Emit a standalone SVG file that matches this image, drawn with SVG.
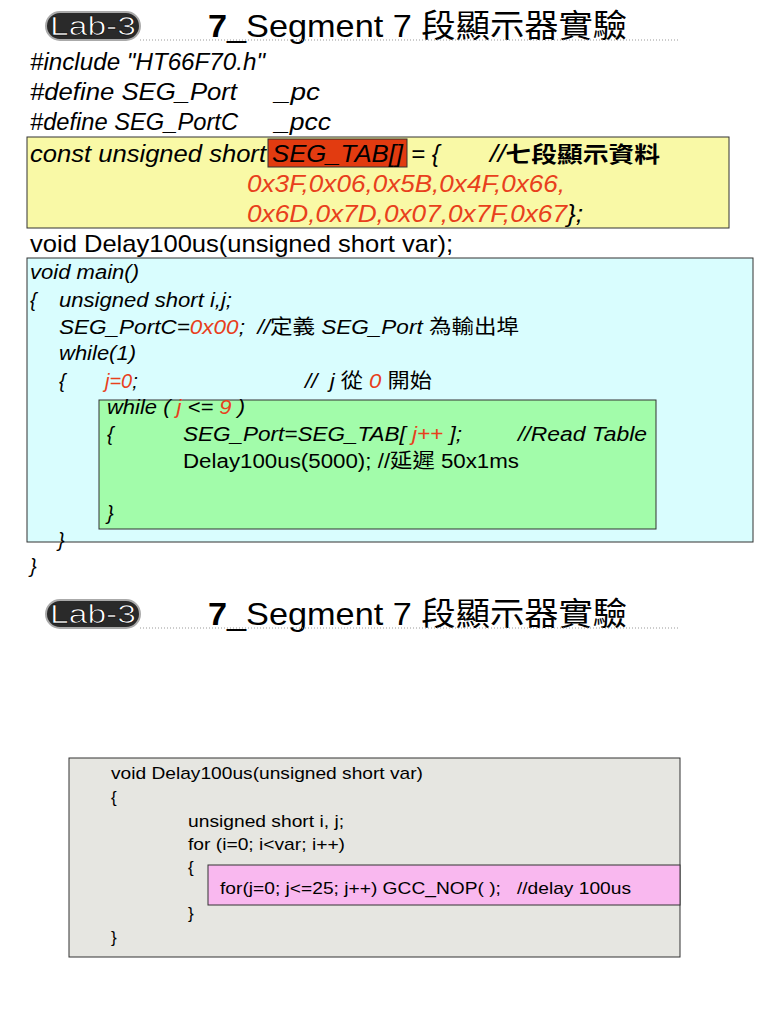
<svg xmlns="http://www.w3.org/2000/svg" width="768" height="1024" viewBox="0 0 768 1024">
<style>
text{font-family:"Liberation Sans","Noto Sans CJK TC",sans-serif;fill:#000;white-space:pre}
.c{font-size:24px;font-style:italic}
.m{font-size:20px;font-style:italic}
.r{fill:#e8401c}
.t{font-size:32px}
.b{font-size:17px}
</style>
<defs>
<g id="hdr">
<rect x="46" y="12" width="94" height="28" rx="14" fill="#2a2a2a" stroke="#aaa" stroke-width="2"/>
<text x="50" y="35" font-size="26" textLength="86" lengthAdjust="spacingAndGlyphs" style="fill:#fff" stroke="#000" stroke-width="0.6">Lab-3</text>
<text x="208" y="37" class="t" textLength="419" lengthAdjust="spacingAndGlyphs"><tspan font-weight="bold">7</tspan>_Segment 7 段顯示器實驗</text>
<line x1="140" y1="40" x2="680" y2="40" stroke="#999" stroke-dasharray="1,2"/>
</g>
</defs>
<g id="header1"><use href="#hdr"/></g>
<g id="defines">
<text x="30" y="70" class="c" textLength="235" lengthAdjust="spacingAndGlyphs">#include "HT66F70.h"</text>
<text x="30" y="100" class="c" textLength="207" lengthAdjust="spacingAndGlyphs">#define SEG_Port</text><text x="275" y="100" class="c" textLength="45" lengthAdjust="spacingAndGlyphs">_pc</text>
<text x="30" y="130" class="c" textLength="208" lengthAdjust="spacingAndGlyphs">#define SEG_PortC</text><text x="275" y="130" class="c" textLength="56" lengthAdjust="spacingAndGlyphs">_pcc</text>
</g>
<g id="table">
<rect x="27" y="137" width="702" height="91" fill="#f9f9a6" stroke="#333"/>
<rect x="268" y="139" width="139" height="28" fill="#e23b10" stroke="#333"/>
<text x="30" y="162" class="c" textLength="236" lengthAdjust="spacingAndGlyphs">const unsigned short</text>
<text x="272" y="162" class="c" textLength="131" lengthAdjust="spacingAndGlyphs">SEG_TAB[]</text>
<text x="411" y="162" class="c" font-size="19">= {</text>
<text x="490" y="162" class="c" textLength="170" lengthAdjust="spacingAndGlyphs">//<tspan font-style="normal" font-weight="bold" font-size="22">七段顯示資料</tspan></text>
<text x="247" y="192" class="c r" textLength="318" lengthAdjust="spacingAndGlyphs">0x3F,0x06,0x5B,0x4F,0x66,</text>
<text x="247" y="222" class="c" textLength="336" lengthAdjust="spacingAndGlyphs"><tspan class="r">0x6D,0x7D,0x07,0x7F,0x67</tspan>};</text>
</g>
<text x="30" y="252" font-size="24" textLength="423" lengthAdjust="spacingAndGlyphs">void Delay100us(unsigned short var);</text>
<g id="main">
<rect x="27" y="258" width="726" height="284" fill="#d9fdfe" stroke="#333"/>
<text x="30" y="279" class="m" textLength="109" lengthAdjust="spacingAndGlyphs">void main()</text>
<text x="30" y="307" class="m">{</text><text x="59" y="307" class="m" textLength="173" lengthAdjust="spacingAndGlyphs">unsigned short i,j;</text>
<text x="59" y="334" class="m" textLength="460" lengthAdjust="spacingAndGlyphs">SEG_PortC=<tspan class="r">0x00</tspan>;  //<tspan font-style="normal">定義</tspan> SEG_Port <tspan font-style="normal">為輸出埠</tspan></text>
<text x="59" y="360" class="m" textLength="77" lengthAdjust="spacingAndGlyphs">while(1)</text>
<text x="59" y="388" class="m">{</text><text x="105" y="388" class="m r">j=0<tspan style="fill:#000">;</tspan></text>
<text x="305" y="388" class="m" textLength="127" lengthAdjust="spacingAndGlyphs">//  j <tspan font-style="normal">從</tspan> <tspan class="r">0</tspan> <tspan font-style="normal">開始</tspan></text>
<rect x="99" y="400" width="557" height="129" fill="#a2fcaa" stroke="#333"/>
<text x="107" y="414" class="m" textLength="138" lengthAdjust="spacingAndGlyphs">while ( <tspan class="r">j</tspan> &lt;= <tspan class="r">9</tspan> )</text>
<text x="107" y="441" class="m">{</text><text x="183" y="441" class="m" textLength="279" lengthAdjust="spacingAndGlyphs">SEG_Port=SEG_TAB[ <tspan class="r">j++</tspan> ];</text>
<text x="518" y="441" class="m" textLength="129" lengthAdjust="spacingAndGlyphs">//Read Table</text>
<text x="183" y="468" font-size="20" textLength="336" lengthAdjust="spacingAndGlyphs">Delay100us(5000); //延遲 50x1ms</text>
<text x="107" y="520" class="m">}</text>
<text x="58" y="547" class="m">}</text>
<text x="30" y="573" class="m">}</text>
</g>
<g id="header2" transform="translate(0,588)"><use href="#hdr"/></g>
<g id="delay">
<rect x="69" y="758" width="611" height="199" fill="#e6e6e1" stroke="#333"/>
<text x="111" y="779" class="b" textLength="312" lengthAdjust="spacingAndGlyphs">void Delay100us(unsigned short var)</text>
<text x="111" y="803" class="b">{</text>
<text x="188" y="827" class="b" textLength="156" lengthAdjust="spacingAndGlyphs">unsigned short i, j;</text>
<text x="188" y="850" class="b" textLength="157" lengthAdjust="spacingAndGlyphs">for (i=0; i&lt;var; i++)</text>
<text x="188" y="873" class="b">{</text>
<rect x="208" y="865" width="472" height="40" fill="#f9b8ef" stroke="#333"/>
<text x="220" y="894" class="b" textLength="411" lengthAdjust="spacingAndGlyphs">for(j=0; j&lt;=25; j++) GCC_NOP( );   //delay 100us</text>
<text x="188" y="919" class="b">}</text>
<text x="111" y="943" class="b">}</text>
</g>
</svg>
